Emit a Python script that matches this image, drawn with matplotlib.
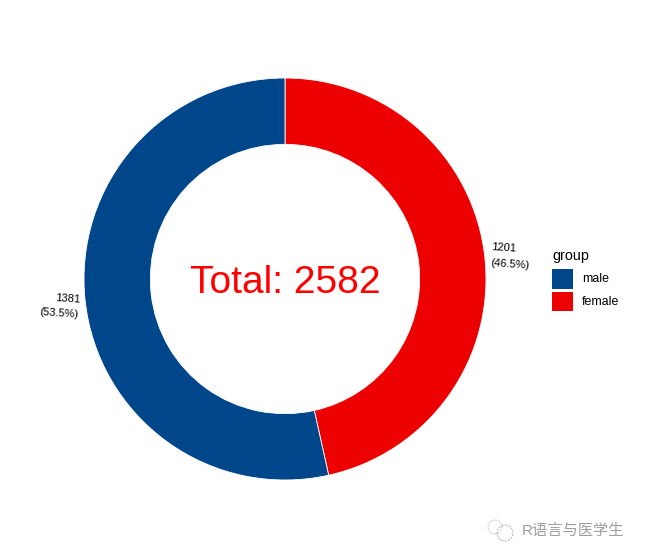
import numpy as np
import matplotlib
matplotlib.use('Agg')
import matplotlib.pyplot as plt
from matplotlib.patches import Patch, Circle

groups = ['female', 'male']
counts = [1201, 1381]
shares = ['46.5%', '53.5%']
colors = ['#ED0000', '#00468B']
legend_groups = ['male', 'female']
legend_colors = ['#00468B', '#ED0000']
total = 2582

W, H = 646, 558
cx, cy, r = 285, 279, 201

plt.rcParams['font.family'] = ['Liberation Sans', 'Noto Sans CJK SC', 'DejaVu Sans']
fig = plt.figure(figsize=(W / 100, H / 100), dpi=100)
ax = fig.add_axes([(cx - r) / W, 1 - (cy + r) / H, 2 * r / W, 2 * r / H])

wedges, _ = ax.pie(counts, colors=colors, startangle=90, counterclock=False,
                   radius=1, wedgeprops={'width': 0.33, 'edgecolor': 'white', 'linewidth': 0.6})
ax.set_xlim(-1, 1)
ax.set_ylim(-1, 1)
ax.axis('off')

# labels sit just outside the middle of each wedge
for w, n, s in zip(wedges, counts, shares):
    a = np.deg2rad((w.theta1 + w.theta2) / 2)
    x, y = 1.03 * np.cos(a), 1.03 * np.sin(a)
    ha = 'left' if x > 0 else 'right'
    dy = 0.008 if x > 0 else -0.027
    ax.text(x, y + dy, '%d\n(%s)' % (n, s), ha=ha, va='center', multialignment=ha,
            rotation=-4, rotation_mode='anchor', fontsize=8, color='black', linespacing=1.7)

ax.text(0, -0.02, 'Total: %d' % total, ha='center', va='center', fontsize=28, color='#FF0000')

handles = [Patch(facecolor=c, edgecolor='none') for c in legend_colors]
leg = fig.legend(handles, legend_groups, title='group', loc='upper left',
                 bbox_to_anchor=(552 / W, 1 - 249 / H), frameon=False, fontsize=8.9,
                 title_fontsize=10.4, handlelength=1.72, handleheight=2.11, handletextpad=0.7,
                 labelspacing=0.24, borderpad=0, borderaxespad=0)
leg.get_title().set_ha('left')
leg._legend_box.align = 'left'
leg._legend_box.sep = 4

# watermark in the lower right corner
bg = fig.add_axes([0, 0, 1, 1], xlim=(0, W), ylim=(H, 0))
bg.axis('off')
bg.patch.set_alpha(0)
bg.text(522, 531, 'R语言与医学生', fontsize=11, color='#A0A0A0', ha='left', va='center')
bg.add_patch(Circle((495, 527), 7, fill=False, ec='#CFCFCF', lw=0.8, ls=(0, (2, 1))))
bg.add_patch(Circle((505, 533), 8, fill=False, ec='#BDBDBD', lw=0.8, ls=(0, (2, 1))))

fig.savefig('out.png', dpi=100, facecolor='white')
